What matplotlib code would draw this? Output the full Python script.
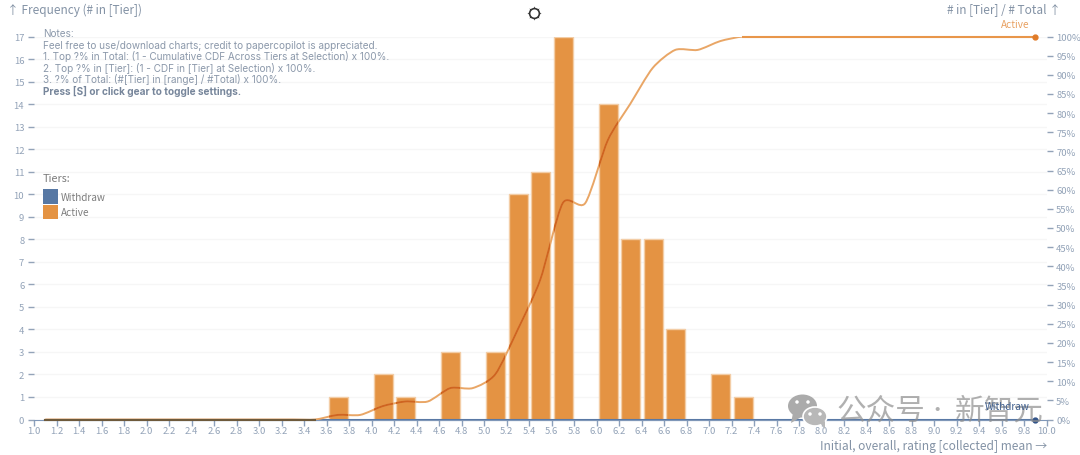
import numpy as np
import matplotlib
matplotlib.use('Agg')
import matplotlib.pyplot as plt
from matplotlib.path import Path
from matplotlib.patches import PathPatch, Ellipse, Rectangle, Polygon

plt.rcParams['font.family'] = ['Noto Sans CJK SC', 'DejaVu Sans']

# histogram, bins are 0.2 wide
bin_left = [3.6, 4.0, 4.2, 4.6, 5.0, 5.2, 5.4, 5.6, 6.0, 6.2, 6.4, 6.6, 7.0, 7.2]
bin_count = [1, 2, 1, 3, 3, 10, 11, 17, 14, 8, 8, 4, 2, 1]

# cumulative curves, one value per bin centre from 1.1 to 9.9
active_cdf = [0, 0, 0, 0, 0, 0, 0, 0, 0, 0, 0, 0, 0,
              1.2, 1.2, 3.5, 4.7, 4.7, 8.2, 8.2, 11.8, 23.5, 36.5, 56.5, 56.5,
              72.9, 82.4, 91.8, 96.5, 96.5, 98.8, 100, 100, 100, 100, 100, 100,
              100, 100, 100, 100, 100, 100, 100, 100]
withdraw_cdf = [0] * 45
curve_x = [round(1.1 + 0.2 * i, 1) for i in range(45)]

x_ticks = [round(1.0 + 0.2 * i, 1) for i in range(46)]
count_ticks = list(range(18))
pct_ticks = list(range(0, 105, 5))

notes = ['Notes:',
         'Feel free to use/download charts; credit to papercopilot is appreciated.',
         '1. Top ?% in Total: (1 - Cumulative CDF Across Tiers at Selection) x 100%.',
         '2. Top ?% in [Tier]: (1 - CDF in [Tier] at Selection) x 100%.',
         '3. ?% of Total: (#[Tier] in [range] / #Total) x 100%.']

ORANGE = '#E49343'
BLUE = '#5778A4'
TICK = '#93A3B8'
TITLE = '#8392A5'


def smooth_path(x, y):
    # catmull-rom style bezier segments, tangents a bit shorter than usual
    pts = np.column_stack([x, y])
    verts = [pts[0]]
    codes = [Path.MOVETO]
    for i in range(len(pts) - 1):
        p0 = pts[max(i - 1, 0)]
        p1 = pts[i]
        p2 = pts[i + 1]
        p3 = pts[min(i + 2, len(pts) - 1)]
        verts += [p1 + (p2 - p0) / 8, p2 - (p3 - p1) / 8, p2]
        codes += [Path.CURVE4] * 3
    return Path(verts, codes)


fig = plt.figure(figsize=(10.8, 4.56), dpi=100)
ax = fig.add_axes([34 / 1080, 35.5 / 456, 1012.5 / 1080, 383 / 456])
ax.set_xlim(1, 10)
ax.set_ylim(0, 17)
ax2 = ax.twinx()
ax2.set_ylim(0, 100)
ax2.set_zorder(ax.get_zorder() + 1)
ax2.patch.set_visible(False)

ax.yaxis.grid(True, color='#F6F6F6', lw=1)
ax.set_axisbelow(True)
centres = np.array(bin_left) + 0.105
bars = ax.bar(centres, bin_count, width=0.168, color=ORANGE, edgecolor='#F3CDA6', linewidth=1)

# curve is darker where it crosses the bars
ax2.add_patch(PathPatch(smooth_path(curve_x, active_cdf), fill=False, ec='#E9A666', lw=1.4, zorder=3))
bar_path = Path.make_compound_path(*[b.get_path().transformed(b.get_transform()) for b in bars])
dark = PathPatch(smooth_path(curve_x, active_cdf), fill=False, ec='#CF6420', lw=1.4, zorder=4)
ax2.add_patch(dark)
dark.set_clip_path(bar_path, matplotlib.transforms.IdentityTransform())
flat = [x for x, y in zip(curve_x, active_cdf) if y == 100]
ax2.plot(flat, [100] * len(flat), color='#E8964A', lw=1.5, zorder=4, clip_on=False)
ax2.plot(curve_x, withdraw_cdf, color=BLUE, lw=1.5, zorder=2, clip_on=False)
ax2.plot(curve_x[:13], active_cdf[:13], color='#6E5A3C', lw=1.5, zorder=5, clip_on=False)
ax2.plot(curve_x[-1], active_cdf[-1], 'o', color='#E07B28', ms=3.5, clip_on=False, zorder=6)
ax2.plot(curve_x[-1], withdraw_cdf[-1], 'o', color='#2F5288', ms=3.5, clip_on=False, zorder=6)

for s in ax.spines.values():
    s.set_visible(False)
for s in ax2.spines.values():
    s.set_visible(False)
ax2.spines['bottom'].set_visible(True)
ax2.spines['bottom'].set_color('#7F97B8')

ax.set_xticks(x_ticks)
ax.set_xticklabels(['%.1f' % v for v in x_ticks])
ax.tick_params(axis='x', length=4, width=1, color='#8CA0BC', labelsize=6.8, labelcolor=TICK, pad=1)
ax.set_yticks(count_ticks)
ax.tick_params(axis='y', length=4, width=1, color=TICK, labelsize=6.8, labelcolor=TICK, pad=3)
ax2.set_yticks(pct_ticks)
ax2.set_yticklabels(['%d%%' % v for v in pct_ticks])
ax2.tick_params(axis='y', length=4, width=1, color=TICK, labelsize=6.8, labelcolor=TICK, pad=3)

# overlay in pixel coordinates for titles, notes, legend, icons
ov = fig.add_axes([0, 0, 1, 1], zorder=10)
ov.set_xlim(0, 1080)
ov.set_ylim(456, 0)
ov.axis('off')

ov.text(7, 10, '↑ Frequency (# in [Tier])', color=TITLE, fontsize=8.5, va='center')
ov.text(1061, 10, '# in [Tier] / # Total ↑', color=TITLE, fontsize=8.5, va='center', ha='right')
ov.text(1047, 447, 'Initial, overall, rating [collected] mean →', color=TITLE, fontsize=8.6, va='center', ha='right')
ov.text(1015, 25, 'Active', color='#E8A060', fontsize=7.2, va='center', ha='center')

for i, line in enumerate(notes):
    ov.text(43, 34 + i * 11.4, line, color='#8C99AB', fontsize=7.2, family='Inter', va='center')
ov.text(43, 91, 'Press [S] or click gear to toggle settings.', color='#77869B', fontsize=7.2,
        family='Inter', weight='bold', va='center')

ov.text(43, 179, 'Tiers:', color='#7C7C7C', fontsize=7.8, va='center')
ov.add_patch(Rectangle((43, 190), 14.5, 14.5, fc=BLUE, ec='none'))
ov.add_patch(Rectangle((43, 205.5), 14.5, 14.5, fc=ORANGE, ec='none'))
ov.text(61, 198, 'Withdraw', color='#7C7C7C', fontsize=7.2, va='center')
ov.text(61, 213, 'Active', color='#7C7C7C', fontsize=7.2, va='center')

# gear
ov.scatter([533.5], [14], marker=(8, 1, 0), s=105, c='#333333', lw=0, zorder=3)
ov.scatter([533.5], [14], marker='o', s=68, c='#333333', lw=0, zorder=3)
ov.scatter([533.5], [14], marker='o', s=34, c='white', lw=0, zorder=4)

# watermark
ov.add_patch(Ellipse((802.5, 407), 29, 23, fc='#ABABAB', ec='none'))
ov.add_patch(Polygon([(793, 414), (791, 424), (803, 417)], fc='#ABABAB', ec='none'))
ov.add_patch(Ellipse((815, 417.5), 24, 19, fc='#B8B8B8', ec='white', lw=1.2))
ov.add_patch(Polygon([(820, 424), (825, 430), (825, 422)], fc='#B8B8B8', ec='none'))
for cx, cy in [(797, 403), (808, 403), (810, 415), (820, 415)]:
    ov.add_patch(Ellipse((cx, cy), 3.5, 3.5, fc='white', ec='none'))
wm_font = ['Noto Sans CJK SC', 'DejaVu Sans']
ov.text(836, 411, '公众号', family=wm_font, fontsize=21.3, color='#8F8F8F', alpha=0.7, va='center')
ov.text(937, 411, '·', family=wm_font, fontsize=14, color='#8F8F8F', alpha=0.7, va='center', ha='center')
ov.text(955, 411, '新智元', family=wm_font, fontsize=21.3, color='#8F8F8F', alpha=0.7, va='center')
ov.text(1007, 407, 'Withdraw', color='#3F5F8F', fontsize=7.2, va='center', ha='center')

fig.savefig('out.png', dpi=100)
